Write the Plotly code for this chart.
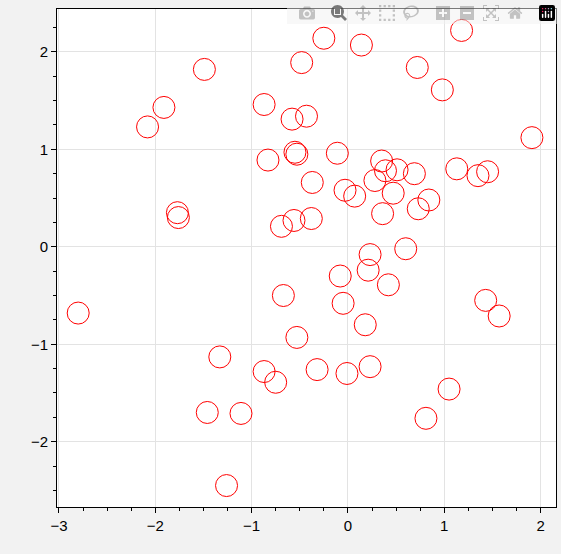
import plotly.graph_objects as go

xs = [-2.80, -2.08, -1.91, -1.49, -1.77, -1.76, -1.33, -1.46, -1.11, -1.26,
      -0.87, -0.83, -0.87, -0.75, -0.69, -0.67, -0.58, -0.55, -0.53, -0.56,
      -0.53, -0.48, -0.43, -0.37, -0.38, -0.32, -0.25, -0.11, -0.03, -0.08,
      -0.05, -0.01, 0.07, 0.14, 0.18, 0.21, 0.23, 0.23, 0.28, 0.35,
      0.36, 0.39, 0.42, 0.47, 0.51, 0.60, 0.69, 0.72, 0.73, 0.84,
      0.98, 1.05, 0.81, 1.13, 1.18, 1.35, 1.45, 1.43, 1.57, 1.91]
ys = [-0.68, 1.23, 1.43, 1.82, 0.35, 0.30, -1.13, -1.70, -1.71, -2.45,
      1.46, 0.89, -1.28, -1.39, 0.21, -0.50, 1.31, 0.97, 0.95, 0.27,
      -0.93, 1.89, 1.34, 0.66, 0.29, -1.26, 2.14, 0.96, 0.58, -0.30,
      -0.58, -1.30, 0.52, 2.07, -0.80, -0.24, -0.08, -1.23, 0.68, 0.88,
      0.34, 0.78, -0.39, 0.55, 0.79, -0.02, 0.75, 1.84, 0.39, 0.48,
      1.61, -1.46, -1.76, 0.80, 2.22, 0.73, 0.77, -0.55, -0.71, 1.12]

fig = go.Figure(go.Scatter(
    x=xs, y=ys, mode="markers",
    marker=dict(size=22, color="rgba(0,0,0,0)", line=dict(color="#ff0000", width=1)),
))

ax = dict(showline=True, linecolor="black", linewidth=1, mirror=True,
          ticks="outside", ticklen=5, tickcolor="black",
          showgrid=True, gridcolor="#e3e3e3", zeroline=False,
          minor=dict(ticks="outside", ticklen=3, tickcolor="black", dtick=0.25, showgrid=False),
          tickfont=dict(size=15, color="black"), dtick=1)
fig.update_xaxes(range=[-3.02, 2.16], **ax)
fig.update_yaxes(range=[-2.67, 2.44], **ax)
fig.update_layout(width=561, height=554, showlegend=False,
                  paper_bgcolor="#f2f2f2", plot_bgcolor="white",
                  font=dict(family="Liberation Sans"),
                  margin=dict(l=57, r=5, t=9, b=47))
fig.write_html("out.html", post_script="document.body.style.margin='0';")
